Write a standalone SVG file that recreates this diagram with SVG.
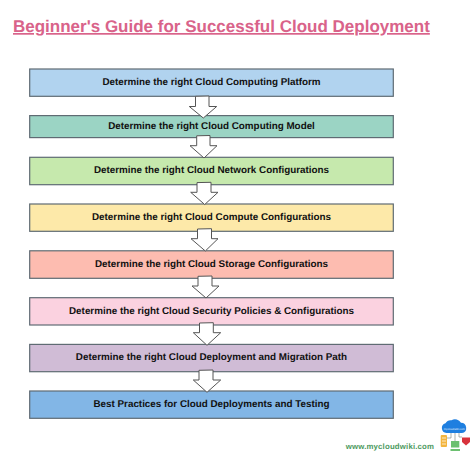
<svg xmlns="http://www.w3.org/2000/svg" width="474" height="456" viewBox="0 0 474 456">
<style>
text{font-family:"Liberation Sans",Arial,sans-serif;text-rendering:geometricPrecision}
.b{stroke:#5f6b73;stroke-width:1.2}
.l{font-size:9.85px;font-weight:700;fill:#111;text-anchor:middle}
.a{fill:#fff;stroke:#555;stroke-width:1}
.w{fill:none;stroke:#8a8f8a;stroke-width:.7}
</style>
<rect width="474" height="456" fill="#fff"/>
<g id="title"><text x="13" y="32" font-size="17" font-weight="700" fill="#d9638a" text-decoration="underline">Beginner's Guide for Successful Cloud Deployment</text></g>
<g id="n1"><rect class="b" x="29.700" y="69" width="363.600" height="27.300" fill="#b1d3ef"/><text class="l" x="211.500" y="84.700">Determine the right Cloud Computing Platform</text></g>
<g id="n2"><rect class="b" x="29.700" y="115.600" width="363.600" height="22" fill="#9bd4c4"/><text class="l" x="211.500" y="129">Determine the right Cloud Computing Model</text></g>
<g id="n3"><rect class="b" x="29.700" y="157.300" width="363.600" height="27.400" fill="#c6e9ad"/><text class="l" x="211.500" y="173">Determine the right Cloud Network Configurations</text></g>
<g id="n4"><rect class="b" x="29.700" y="204" width="363.600" height="27.300" fill="#fde9a9"/><text class="l" x="211.500" y="220">Determine the right Cloud Compute Configurations</text></g>
<g id="n5"><rect class="b" x="29.700" y="250.800" width="363.600" height="27.500" fill="#fdbcb0"/><text class="l" x="211.500" y="267">Determine the right Cloud Storage Configurations</text></g>
<g id="n6"><rect class="b" x="29.700" y="297.700" width="363.600" height="27.300" fill="#fbd2e0"/><text class="l" x="211.500" y="313.700">Determine the right Cloud Security Policies &amp; Configurations</text></g>
<g id="n7"><rect class="b" x="29.700" y="344.400" width="363.600" height="27.300" fill="#d0bcd6"/><text class="l" x="211.500" y="360">Determine the right Cloud Deployment and Migration Path</text></g>
<g id="n8"><rect class="b" x="29.700" y="391" width="363.600" height="27.300" fill="#82b6e6"/><text class="l" x="211.500" y="407">Best Practices for Cloud Deployments and Testing</text></g>
<g id="connectors">
<path class="a" d="M195.500 96.300L209 96V106.500H216.700L203.300 118L189.300 106.500H195.500Z"/>
<path class="a" d="M196.700 135.800L210 135.500V145.700H217L204 158L190 145.700H196.700Z"/>
<path class="a" d="M197 182.600L211 182.300V192.300H218L204.700 204.500L190.700 192.300H197Z"/>
<path class="a" d="M197.500 229L211.500 228.700V238.700H218L205.300 251L191 238.700H197.500Z"/>
<path class="a" d="M198 276.300L212 276V286H219L206 298L192 286H198Z"/>
<path class="a" d="M199.500 323L213.300 322.700V332.700H220.700L207 345.300L193.300 332.700H199.500Z"/>
<path class="a" d="M199 370.300L213 370V380H220.700L207 392.300L193.300 380H199Z"/>
</g>
<g id="logo">
<text x="345.700" y="449.300" font-size="7.800" font-weight="700" fill="#4d9a5e" letter-spacing=".18">www.mycloudwiki.com</text>
<path d="M446.500 433a5 5 0 0 1-1-9.800a6 6 0 0 1 6-3a7 7 0 0 1 9.500 2.500a5.200 5.200 0 0 1 1 10.300Z" fill="#1f7fe0"/>
<text x="454.300" y="429.500" font-size="2.800" fill="#e6f2fd" text-anchor="middle">mycloudwiki.com</text>
<path class="w" d="M447 438H451V433M455 433V441M459 433V437H462"/>
<rect x="440.700" y="435" width="6.300" height="12" rx="1" fill="#f3b53f"/>
<path d="M442 438H446M442 441H446M442 444H446" stroke="#fff" stroke-width=".7"/>
<rect x="451" y="441" width="8.300" height="6.500" fill="#6cc070"/>
<rect x="450.500" y="449" width="9.500" height="2" fill="#6cc070"/>
<path d="M462 437.500H470V442L466 445.500L462 442Z" fill="#d8323c"/>
</g>
</svg>
